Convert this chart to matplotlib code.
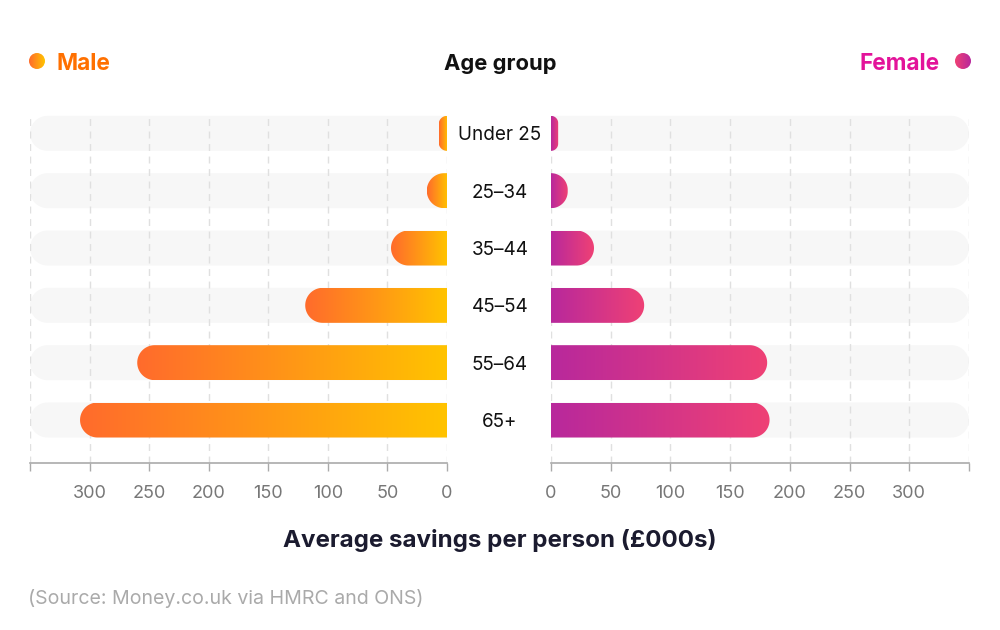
import numpy as np
import matplotlib
matplotlib.use("Agg")
import matplotlib.pyplot as plt
from matplotlib.colors import LinearSegmentedColormap
from matplotlib.patches import Polygon, Circle
from matplotlib.transforms import blended_transform_factory, offset_copy

plt.rcParams['font.family'] = ['Inter', 'DejaVu Sans']

age_groups = ['Under 25', '25\u201334', '35\u201344', '45\u201354', '55\u201364', '65+']
male = [7, 17, 47, 119, 260, 308]
female = [6, 14, 36, 78, 181, 183]
ticks = [0, 50, 100, 150, 200, 250, 300, 350]
tick_labels = ['0', '50', '100', '150', '200', '250', '300', '']
xmax = 350

male_cmap = LinearSegmentedColormap.from_list('m', ['#FFC300', '#FF6B2C'])
female_cmap = LinearSegmentedColormap.from_list('f', ['#B8289C', '#EF4175'])

W, H = 1000, 630
fig = plt.figure(figsize=(10, 6.3), dpi=100)

ax_top, ax_bot = 115, 463
ylim = (5.75, -0.32)
ax_l = fig.add_axes([30 / W, (H - ax_bot) / H, 417 / W, (ax_bot - ax_top) / H])
ax_r = fig.add_axes([551 / W, (H - ax_bot) / H, 418 / W, (ax_bot - ax_top) / H])

sx = 417 / xmax
sy = (ax_bot - ax_top) / (ylim[0] - ylim[1])
bar_h = 35 / sy
R = 17.5


def bar_shape(y, v):
    rc = min(R, v * sx)
    rx, ry = rc / sx, rc / sy
    y0, y1 = y - bar_h / 2, y + bar_h / 2
    t1 = np.linspace(-np.pi / 2, 0, 30)
    t2 = np.linspace(0, np.pi / 2, 30)
    pts = [(0, y0)]
    pts += list(zip(v - rx + rx * np.cos(t1), y0 + ry + ry * np.sin(t1)))
    pts += list(zip(v - rx + rx * np.cos(t2), y1 - ry + ry * np.sin(t2)))
    pts += [(0, y1)]
    return np.array(pts)


def draw_side(ax, values, cmap):
    ax.set_xlim(0, xmax)
    ax.set_ylim(*ylim)
    for i, v in enumerate(values):
        track = Polygon(bar_shape(i, xmax), closed=True, facecolor='#F7F7F7',
                        edgecolor='none', zorder=1)
        ax.add_patch(track)
        shape = Polygon(bar_shape(i, v), closed=True, facecolor='none',
                        edgecolor='none', zorder=3)
        ax.add_patch(shape)
        grad = np.linspace(0, 1, 256).reshape(1, -1)
        im = ax.imshow(grad, cmap=cmap, aspect='auto', zorder=3,
                       extent=(0, v, i + bar_h / 2, i - bar_h / 2))
        im.set_clip_path(shape)
    ax.set_xlim(0, xmax)
    ax.set_ylim(*ylim)
    for t in ticks:
        ax.axvline(t, color='#E0E0E0', lw=1, ls=(0, (5, 4)), zorder=2)
    ax.set_xticks(ticks)
    ax.set_xticklabels(tick_labels)
    ax.set_yticks([])
    for s in ['top', 'left', 'right']:
        ax.spines[s].set_visible(False)
    ax.spines['bottom'].set_color('#AAAAAA')
    ax.spines['bottom'].set_linewidth(1.2)
    ax.tick_params(axis='x', colors='#AAAAAA', length=6, width=1, pad=10,
                   labelsize=13, labelcolor='#777777')


draw_side(ax_l, male, male_cmap)
ax_l.invert_xaxis()
draw_side(ax_r, female, female_cmap)

trans = blended_transform_factory(fig.transFigure, ax_r.transData)
trans = offset_copy(trans, fig=fig, y=-2, units='dots')
for i, g in enumerate(age_groups):
    ax_r.text(0.5, i, g, transform=trans, ha='center', va='center',
              fontsize=13.6, color='#111111', clip_on=False)

# header
hy = 1 - 64 / H
fig.text(0.5, hy, 'Age group', ha='center', va='center',
         fontsize=15.8, fontweight='bold', color='#111111')
fig.text(56 / W, hy, 'Male', ha='left', va='center',
         fontsize=16.3, fontweight='bold', color='#FF7000')
fig.text(940 / W, hy, 'Female', ha='right', va='center',
         fontsize=16.3, fontweight='bold', color='#E3139A')


def legend_dot(cx, cy, cmap, flip):
    r = 8
    a = fig.add_axes([(cx - r) / W, (H - cy - r) / H, 2 * r / W, 2 * r / H])
    a.set_xlim(-1, 1)
    a.set_ylim(-1, 1)
    a.axis('off')
    grad = np.linspace(0, 1, 64).reshape(1, -1)
    if flip:
        grad = grad[:, ::-1]
    im = a.imshow(grad, cmap=cmap, extent=(-1, 1, -1, 1), aspect='auto')
    c = Circle((0, 0), 1, transform=a.transData, facecolor='none', edgecolor='none')
    a.add_patch(c)
    im.set_clip_path(c)


legend_dot(37, 61, male_cmap, True)
legend_dot(963, 61, female_cmap, True)

fig.text(0.5, 1 - 541 / H, 'Average savings per person (\u00a3000s)', ha='center',
         va='center', fontsize=17.4, fontweight='bold', color='#1B1B2F')
fig.text(28 / W, 1 - 598 / H, '(Source: Money.co.uk via HMRC and ONS)', ha='left',
         va='center', fontsize=14.1, color='#AAAAAA')

fig.savefig('out.png', dpi=100)
